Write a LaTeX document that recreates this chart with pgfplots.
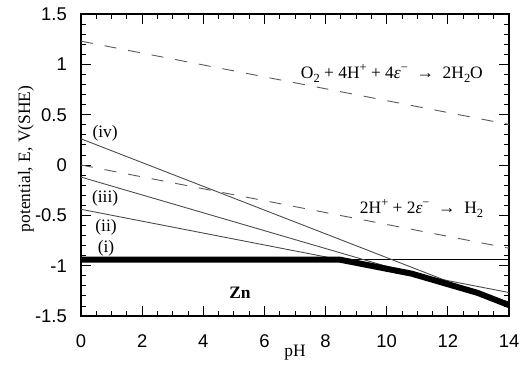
\documentclass[border=0pt]{standalone}
\usepackage{pgfplots}
\pgfplotsset{compat=1.18}
\usepackage{fontspec}
\setmainfont{Liberation Serif}
\newfontfamily\ticksans{Liberation Sans}
\newcommand{\lbl}{\fontsize{17.5}{17.5}\selectfont}
\newcommand{\chsub}[1]{\raisebox{-0.55ex}{\fontsize{12.5}{12.5}\selectfont #1}}
\newcommand{\chsup}[1]{\raisebox{0.85ex}{\fontsize{12.5}{12.5}\selectfont #1}}
\begin{document}
\begin{tikzpicture}
\useasboundingbox (0,0) rectangle (525bp,370bp);
\begin{axis}[
  at={(81bp,54bp)}, anchor=south west,
  scale only axis, width=428bp, height=302bp,
  xmin=0, xmax=14, ymin=-1.5, ymax=1.5,
  xtick={0,2,...,14}, ytick={-1.5,-1,...,1.5},
  minor x tick num=3, minor y tick num=4,
  major tick length=10bp, minor tick length=5bp,
  every tick/.style={black, line width=0.8bp},
  axis line style={line width=1.2bp},
  tick label style={font=\ticksans\fontsize{18.5}{18.5}\selectfont},
  /pgf/number format/assume math mode=true,
  xticklabel style={anchor=base, yshift=-31bp},
  yticklabel style={anchor=east, inner sep=0pt, xshift=-14bp},
  xlabel={pH},
  xlabel style={font=\lbl, at={(axis description cs:0.5,0)}, anchor=base, yshift=-40bp},
  ylabel={potential, E, V(SHE)},
  ylabel style={font=\lbl, at={(axis description cs:0,0.52)}, anchor=base, yshift=51bp},
  clip=false,
]
% water lines
\addplot[black!65, line width=0.9bp, dash pattern=on 12bp off 12bp] coordinates {(0,1.23) (14,0.403)};
\addplot[black!65, line width=0.9bp, dash pattern=on 12bp off 12bp] coordinates {(0,0) (14,-0.827)};
% (i)
\addplot[black, line width=0.9bp] coordinates {(0,-0.94) (14,-0.94)};
% (ii)
\addplot[black!70, line width=0.9bp] coordinates {(0,-0.44) (14,-1.267)};
% (iii)
\addplot[black!70, line width=0.9bp] coordinates {(0,-0.12) (14,-1.362)};
% (iv)
\addplot[black!70, line width=0.9bp] coordinates {(0,0.26) (14,-1.392)};
% boundary (lower envelope)
\addplot[black, line width=6bp] coordinates {(0,-0.94) (8.46,-0.94) (10.81,-1.079) (12.97,-1.270) (14,-1.392)};

\node[font=\lbl] at (axis cs:0.79,0.318) {(iv)};
\node[font=\lbl] at (axis cs:0.79,-0.33) {(iii)};
\node[font=\lbl] at (axis cs:0.82,-0.616) {(ii)};
\node[font=\lbl] at (axis cs:0.82,-0.824) {(i)};
\node[font=\lbl\bfseries] at (axis cs:5.2,-1.267) {Zn};
\node[font=\lbl, anchor=base east, inner sep=0pt] at (axis cs:13.15,0.861)
  {O\chsub{2} + 4H\chsup{+} + 4\textit{ε}\chsup{−}\enspace→\enspace 2H\chsub{2}O};
\node[font=\lbl, anchor=base east, inner sep=0pt] at (axis cs:13.16,-0.48)
  {2H\chsup{+} + 2\textit{ε}\chsup{−}\enspace→\enspace H\chsub{2}};
\end{axis}
\end{tikzpicture}
\end{document}
